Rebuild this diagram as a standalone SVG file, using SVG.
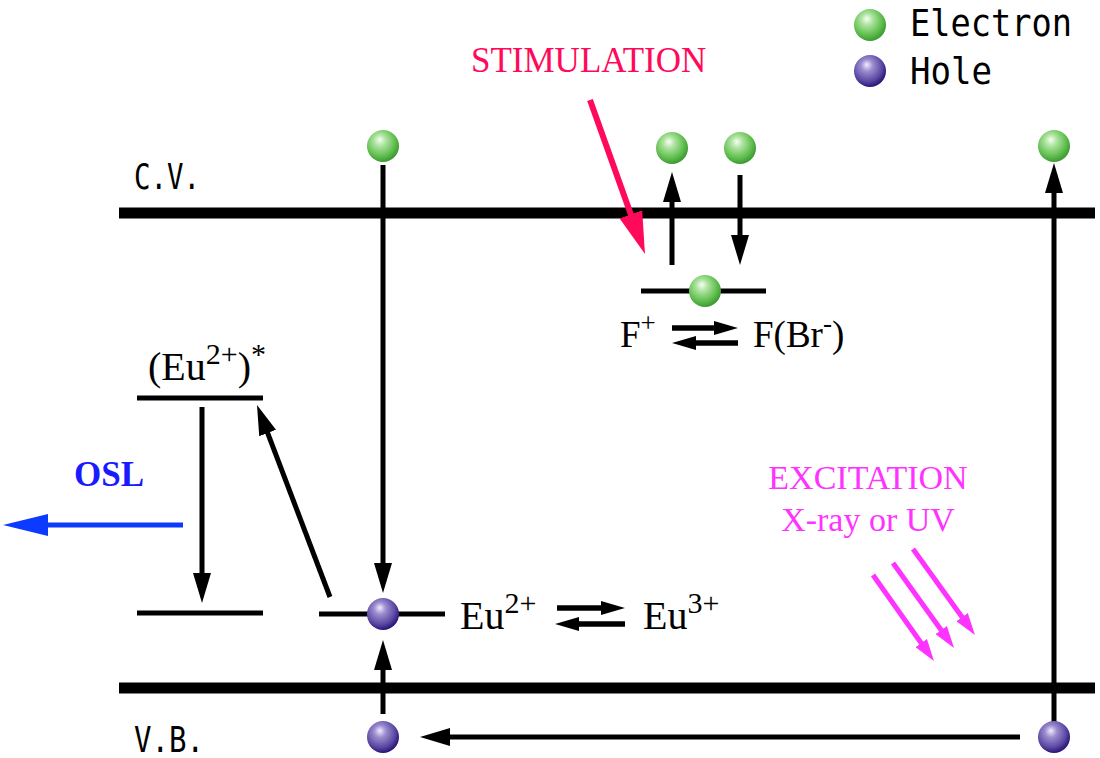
<svg xmlns="http://www.w3.org/2000/svg" width="1100" height="758" viewBox="0 0 1100 758">
<defs>
<radialGradient id="gGreen" cx="0.42" cy="0.38" r="0.62" fx="0.4" fy="0.3">
<stop offset="0" stop-color="#f6fff2"/>
<stop offset="0.3" stop-color="#ade39f"/>
<stop offset="0.75" stop-color="#5fbd4d"/>
<stop offset="1" stop-color="#3e9a33"/>
</radialGradient>
<radialGradient id="gPurple" cx="0.42" cy="0.38" r="0.62" fx="0.4" fy="0.3">
<stop offset="0" stop-color="#f2ecff"/>
<stop offset="0.3" stop-color="#9c8ecf"/>
<stop offset="0.75" stop-color="#5a48a2"/>
<stop offset="1" stop-color="#2a1578"/>
</radialGradient>
<marker id="hBlack" markerUnits="userSpaceOnUse" markerWidth="30" markerHeight="18" refX="10" refY="9" orient="auto">
<path d="M0,0 L30,9 L0,18 z" fill="#000"/>
</marker>
<marker id="hSmall" markerUnits="userSpaceOnUse" markerWidth="24" markerHeight="14" refX="8" refY="7" orient="auto">
<path d="M0,0 L24,7 L0,14 z" fill="#000"/>
</marker>
<marker id="hBlue" markerUnits="userSpaceOnUse" markerWidth="45" markerHeight="22" refX="15" refY="11" orient="auto">
<path d="M0,0 L45,11 L0,22 z" fill="#0b3bff"/>
</marker>
<marker id="hRed" markerUnits="userSpaceOnUse" markerWidth="42" markerHeight="24" refX="12" refY="12" orient="auto">
<path d="M0,0 L42,12 L0,24 z" fill="#ff0a5a"/>
</marker>
<marker id="hMag" markerUnits="userSpaceOnUse" markerWidth="22" markerHeight="14" refX="6" refY="7" orient="auto">
<path d="M0,0 L22,7 L0,14 z" fill="#ff33ff"/>
</marker>
</defs>
<style>
.band{stroke:#000;stroke-width:11;fill:none}
.lvl{stroke:#000;stroke-width:5;fill:none}
.arr{stroke:#000;stroke-width:5;fill:none;marker-end:url(#hBlack)}
.eq{stroke:#000;stroke-width:5.5;fill:none;marker-end:url(#hSmall)}
.mag{stroke:#ff33ff;stroke-width:5;fill:none;marker-end:url(#hMag)}
.el{fill:url(#gGreen)}
.ho{fill:url(#gPurple)}
.mono{font-family:"DejaVu Sans Mono","Liberation Mono",monospace;fill:#000}
.serif{font-family:"Liberation Serif","Times New Roman",serif;fill:#000}
</style>
<rect width="1100" height="758" fill="#fff"/>

<g id="bands">
<line class="band" x1="119" y1="213" x2="1095" y2="213"/>
<line class="band" x1="119" y1="688" x2="1095" y2="688"/>
<text class="mono" x="134" y="189" font-size="36" textLength="66" lengthAdjust="spacingAndGlyphs">C.V.</text>
<text class="mono" x="134" y="752" font-size="36" textLength="70" lengthAdjust="spacingAndGlyphs">V.B.</text>
</g>

<g id="legend">
<circle class="el" cx="870" cy="25" r="16"/>
<circle class="ho" cx="870" cy="71" r="16"/>
<text class="mono" x="910" y="36" font-size="38" textLength="162" lengthAdjust="spacingAndGlyphs">Electron</text>
<text class="mono" x="910" y="84" font-size="38" textLength="82" lengthAdjust="spacingAndGlyphs">Hole</text>
</g>

<g id="connectors">
<line class="arr" x1="383" y1="165" x2="383" y2="573"/>
<line class="arr" x1="383" y1="714" x2="383" y2="660"/>
<line class="arr" x1="672" y1="265" x2="672" y2="192"/>
<line class="arr" x1="740" y1="175" x2="740" y2="245"/>
<line class="arr" x1="202" y1="407" x2="202" y2="583"/>
<line class="arr" x1="330" y1="597" x2="264.1" y2="423.7"/>
<line class="arr" x1="1054" y1="735" x2="1054" y2="183"/>
<line class="arr" x1="1020" y1="737" x2="440" y2="737"/>
<line class="eq" x1="672" y1="328" x2="722" y2="328"/>
<line class="eq" x1="738" y1="343" x2="688" y2="343"/>
<line class="eq" x1="557" y1="608" x2="609" y2="608"/>
<line class="eq" x1="625" y1="624" x2="571" y2="624"/>
</g>

<g id="osl">
<line x1="183" y1="525" x2="33" y2="525" stroke="#0b3bff" stroke-width="5" marker-end="url(#hBlue)"/>
<text x="74" y="486" font-family="Liberation Serif, Times New Roman, serif" font-weight="bold" font-size="35" fill="#1a1aff">OSL</text>
</g>

<g id="stimulation">
<line x1="590" y1="100" x2="634.9" y2="225.7" stroke="#ff0a5a" stroke-width="6" marker-end="url(#hRed)"/>
<text x="471" y="72" font-family="Liberation Serif, Times New Roman, serif" font-size="35" fill="#ff0a5a">STIMULATION</text>
</g>

<g id="excitation">
<text x="868" y="489" text-anchor="middle" font-family="Liberation Serif, Times New Roman, serif" font-size="34" fill="#ff33ff">EXCITATION</text>
<text x="868" y="531" text-anchor="middle" font-family="Liberation Serif, Times New Roman, serif" font-size="34" fill="#ff33ff">X-ray or UV</text>
<line class="mag" x1="873" y1="575" x2="924.7" y2="648"/>
<line class="mag" x1="893" y1="563" x2="944.7" y2="635"/>
<line class="mag" x1="913" y1="549" x2="965.6" y2="622"/>
</g>

<g id="electrons-cb">
<circle class="el" cx="383" cy="146" r="16"/>
<circle class="el" cx="672" cy="148" r="16"/>
<circle class="el" cx="740" cy="148" r="16"/>
<circle class="el" cx="1054" cy="146" r="16"/>
</g>

<g id="f-center">
<line class="lvl" x1="641" y1="291" x2="766" y2="291"/>
<circle class="el" cx="705" cy="291" r="16"/>
<text class="serif" x="620" y="347" font-size="37">F<tspan font-size="27" dy="-15">+</tspan></text>
<text class="serif" x="753" y="347" font-size="37">F(Br<tspan font-size="27" dy="-15">-</tspan><tspan dy="15">)</tspan></text>
</g>

<g id="eu-excited">
<line class="lvl" x1="137" y1="398" x2="263" y2="398"/>
<text class="serif" x="148" y="380" font-size="40">(Eu<tspan font-size="30" dy="-16">2+</tspan><tspan dy="16">)</tspan><tspan font-size="30" dy="-16">*</tspan></text>
</g>

<g id="eu-ground">
<line class="lvl" x1="137" y1="613" x2="263" y2="613"/>
</g>

<g id="eu-level">
<line class="lvl" x1="319" y1="614" x2="445" y2="614"/>
<circle class="ho" cx="383" cy="614" r="16"/>
<text class="serif" x="460" y="629" font-size="40">Eu<tspan font-size="30" dy="-16">2+</tspan></text>
<text class="serif" x="643" y="629" font-size="40">Eu<tspan font-size="30" dy="-16">3+</tspan></text>
</g>

<g id="holes-vb">
<circle class="ho" cx="383" cy="737" r="16"/>
<circle class="ho" cx="1054" cy="737" r="16"/>
</g>
</svg>
